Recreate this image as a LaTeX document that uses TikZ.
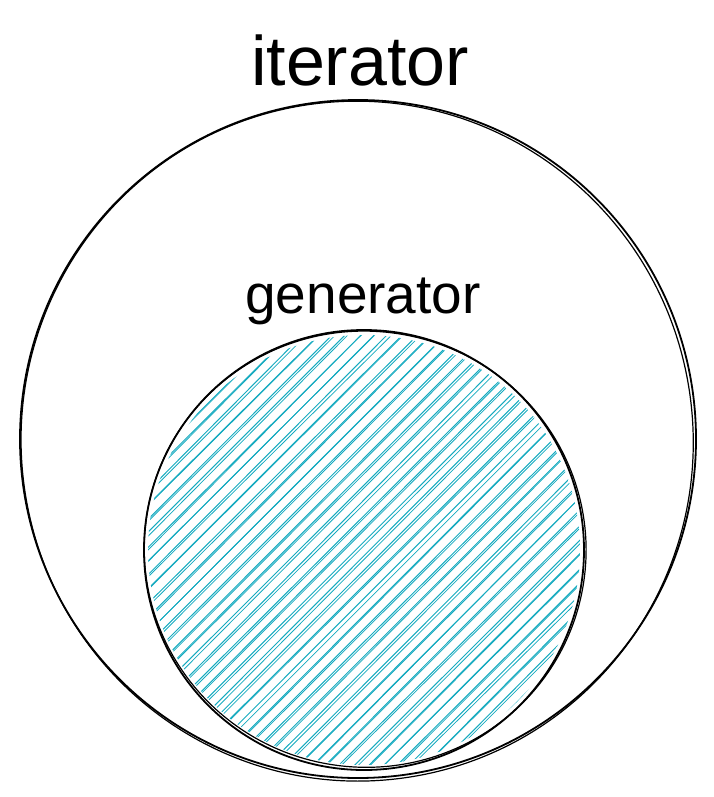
\documentclass[tikz,border=0pt]{standalone}
\usepackage{fontspec}
\setmainfont{Liberation Sans}
\usetikzlibrary{calc}
\definecolor{hachcol}{RGB}{21,170,191}
\begin{document}
\begin{tikzpicture}[x=1pt,y=-1pt,
  sketch/.style={draw=black,line width=1.8pt},
  hach/.style={draw=hachcol,line width=1pt,line cap=round},
  lbl/.style={anchor=base,inner sep=0pt,text=black}]
\useasboundingbox (0,0) rectangle (714,797);
\pgfmathsetseed{7}
% hachure fill of inner circle
\begin{scope}
  \clip (364,550) ellipse [x radius=216, y radius=215];
  \foreach \d in {-315,-305,...,315}{
    \pgfmathsetmacro{\ra}{rand*2}
    \pgfmathsetmacro{\rb}{rand*2}
    \pgfmathsetmacro{\rc}{rand*2.5}
    \pgfmathsetmacro{\rd}{rand*2.5}
    \draw[hach] ($(364,550)+(\d*0.7071+\ra,\d*0.7071)+(-230,230)$) -- ($(364,550)+(\d*0.7071+\rb,\d*0.7071)+(230,-230)$);
    \draw[hach,line width=0.8pt] ($(364,550)+(\d*0.7071+2.5+\rc,\d*0.7071)+(-230,230)$) -- ($(364,550)+(\d*0.7071+2.5+\rd,\d*0.7071)+(230,-230)$);
  }
\end{scope}
% outer circle (sketchy double stroke)
\draw[sketch] (358,439) ellipse [x radius=338, y radius=339];
\draw[sketch,line width=1.2pt,rotate around={8:(358,440)}] (357,441) ellipse [x radius=336, y radius=340];
% inner circle
\draw[sketch] (364,550) ellipse [x radius=220, y radius=220];
\draw[sketch,line width=1.2pt,rotate around={-10:(364,550)}] (365,549) ellipse [x radius=221, y radius=218];
% labels
\node[lbl,font=\fontsize{70}{84}\selectfont] (iter) at (360,86) {iterator};
\node[lbl,font=\fontsize{55}{66}\selectfont] (gen) at (363,313) {generator};
\end{tikzpicture}
\end{document}
